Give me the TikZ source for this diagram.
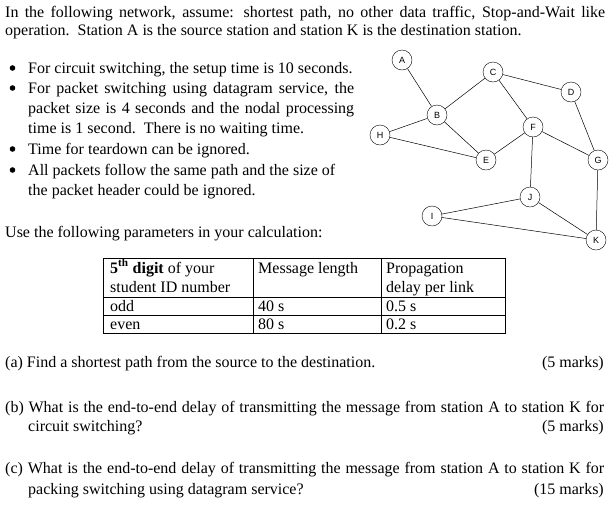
\documentclass[tikz,border=0pt]{standalone}
\usepackage{fontspec}
\setmainfont{Liberation Serif}
\setsansfont{Liberation Sans}
\newcommand{\jl}[2]{\makebox[#1][s]{#2}}
\begin{document}
\begin{tikzpicture}[x=1pt,y=-1pt,
  tx/.style={anchor=base west,inner sep=0,font=\fontsize{16}{18}\selectfont},
  tr/.style={anchor=base east,inner sep=0,font=\fontsize{16}{18}\selectfont},
  nd/.style={circle,draw,minimum size=20pt,inner sep=0,font=\sffamily\fontsize{9}{10}\selectfont},
  ln/.style={line width=0.5pt}]
\useasboundingbox (0,0) rectangle (616,507);
% text
\node[tx] (t1) at (5,17) {\jl{600pt}{In the following network, assume: shortest path, no other data traffic, Stop-and-Wait like}};
\node[tx] (t2) at (5,35) {operation.\ \ Station A is the source station and station K is the destination station.};
\foreach \y in {68,88,149,170}{\fill (12.5,\y) circle (2.8pt);}
\node[tx] (l1) at (28,73) {For circuit switching, the setup time is 10 seconds.};
\node[tx] (l2) at (28,93) {\jl{326pt}{For packet switching using datagram service, the}};
\node[tx] (l3) at (28,113) {\jl{326pt}{packet size is 4 seconds and the nodal processing}};
\node[tx] (l4) at (28,133) {time is 1 second.\ \ There is no waiting time.};
\node[tx] (l5) at (28,154) {Time for teardown can be ignored.};
\node[tx] (l6) at (28,175) {All packets follow the same path and the size of};
\node[tx] (l7) at (28,195) {the packet header could be ignored.};
\node[tx] (u) at (5,237) {Use the following parameters in your calculation:};
% table
\draw[ln] (103,258) rectangle (505,333);
\draw[ln] (103,297)--(505,297) (103,315)--(505,315);
\draw[ln] (253,258)--(253,333) (381,258)--(381,333);
\node[tx] (h1) at (110,273) {\textbf{5\textsuperscript{th} digit} of your};
\node[tx] (h1b) at (110,292) {student ID number};
\node[tx] (h2) at (258,273) {Message length};
\node[tx] (h3) at (386,273) {Propagation};
\node[tx] (h3b) at (386,292) {delay per link};
\node[tx] (r1) at (110,311) {odd};
\node[tx] (r2) at (258,311) {40 s};
\node[tx] (r3) at (386,311) {0.5 s};
\node[tx] (s1) at (110,329) {even};
\node[tx] (s2) at (258,329) {80 s};
\node[tx] (s3) at (386,329) {0.2 s};
% questions
\node[tx] (qa) at (5,367) {(a) Find a shortest path from the source to the destination.};
\node[tr] (ma) at (604,367) {(5 marks)};
\node[tx] (qb) at (5,412) {\jl{599pt}{(b) What is the end-to-end delay of transmitting the message from station A to station K for}};
\node[tx] (qb2) at (28,431) {circuit switching?};
\node[tr] (mb) at (604,431) {(5 marks)};
\node[tx] (qc) at (5,473) {\jl{599pt}{(c) What is the end-to-end delay of transmitting the message from station A to station K for}};
\node[tx] (qc2) at (28,494) {packing switching using datagram service?};
\node[tr] (mc) at (604,494) {(15 marks)};
% graph
\node[nd] (A) at (402,60) {A};
\node[nd] (C) at (493,72) {C};
\node[nd] (D) at (571,92) {D};
\node[nd] (B) at (437,115) {B};
\node[nd] (H) at (380,135) {H};
\node[nd] (F) at (533,127) {F};
\node[nd] (E) at (486,160) {E};
\node[nd] (G) at (598,160) {G};
\node[nd] (J) at (530,197) {J};
\node[nd] (I) at (432,216) {I};
\node[nd] (K) at (596,240) {K};
\draw[ln] (A)--(B) (B)--(C) (B)--(H) (B)--(E) (H)--(E) (C)--(D) (C)--(F) (D)--(G)
  (F)--(E) (F)--(G) (F)--(J) (G)--(K) (J)--(I) (J)--(K) (I)--(K);
\end{tikzpicture}
\end{document}
